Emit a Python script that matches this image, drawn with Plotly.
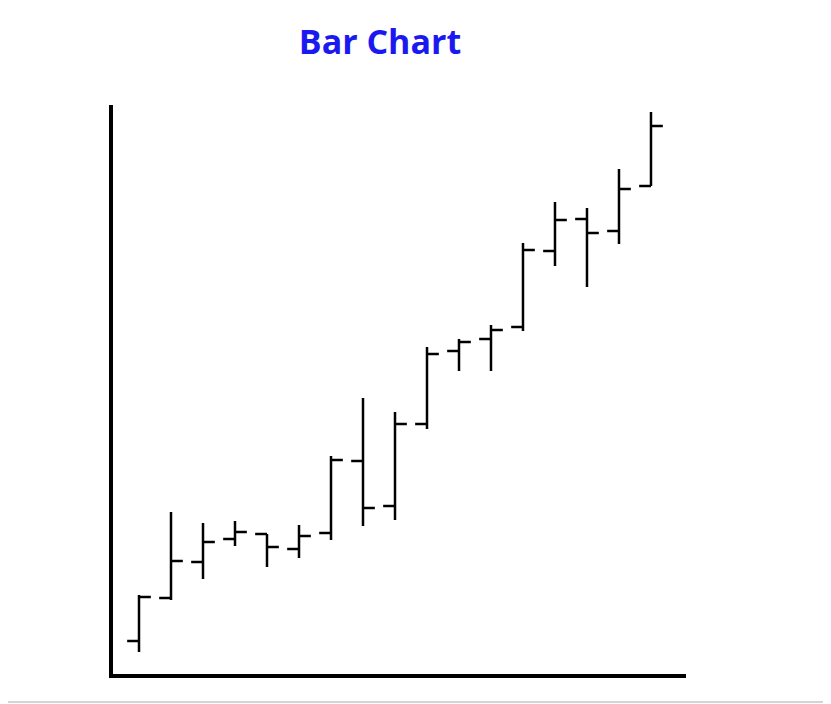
import plotly.graph_objects as go

# ---- data (arbitrary price units) -------------------------------------------
bars = list(range(1, 18))
opens = [3.3, 7.6, 11.2, 13.5, 14.0, 12.5, 14.1, 21.3, 16.8, 25.0, 32.3, 33.5, 34.7, 42.3, 45.5, 44.3, 48.8]
highs = [7.9, 16.2, 15.1, 15.3, 14.0, 14.9, 21.8, 27.6, 26.2, 32.7, 33.5, 34.9, 43.1, 47.2, 46.6, 50.5, 56.2]
lows = [2.2, 7.4, 9.5, 12.8, 10.7, 11.6, 13.4, 14.8, 15.4, 24.5, 30.3, 30.3, 34.3, 40.8, 38.7, 43.0, 48.8]
closes = [7.7, 11.3, 13.2, 14.2, 12.7, 13.8, 21.4, 16.6, 25.0, 32.0, 33.2, 34.4, 42.4, 45.4, 44.1, 48.5, 54.8]

TITLE = "Bar Chart"

# page body keeps an 8px margin, so the canvas is 8px smaller than the window
W, H = 823, 696

fig = go.Figure(
    go.Ohlc(
        x=bars, open=opens, high=highs, low=lows, close=closes,
        increasing=dict(line=dict(color="black", width=2.5)),
        decreasing=dict(line=dict(color="black", width=2.5)),
        tickwidth=0.37,
        hoverinfo="skip",
        showlegend=False,
    )
)

_axis = dict(
    showline=True, linecolor="black", linewidth=4,
    showgrid=False, zeroline=False, showticklabels=False, ticks="",
)

fig.update_layout(
    width=W, height=H,
    autosize=False,
    paper_bgcolor="white", plot_bgcolor="white",
    margin=dict(l=105, r=145, t=97, b=30),
    xaxis=dict(_axis, range=[0.1875, 18.094], rangeslider=dict(visible=False)),
    yaxis=dict(_axis, range=[0, 56.9]),
    title=dict(
        text=TITLE,
        font=dict(family="Open Sans", size=34, color="#1a1af0", weight="bold"),
        x=372 / W, xanchor="center", xref="container",
        y=1 - 34 / H, yanchor="middle", yref="container",
    ),
    # faint scan line at the bottom edge of the original image
    shapes=[dict(type="line", xref="paper", yref="paper",
                 x0=-113 / 573, x1=718 / 573, y0=-0.0492, y1=-0.0492,
                 line=dict(color="#aaaaaa", width=1))],
)

fig.write_html("out.html", config={"responsive": False})
